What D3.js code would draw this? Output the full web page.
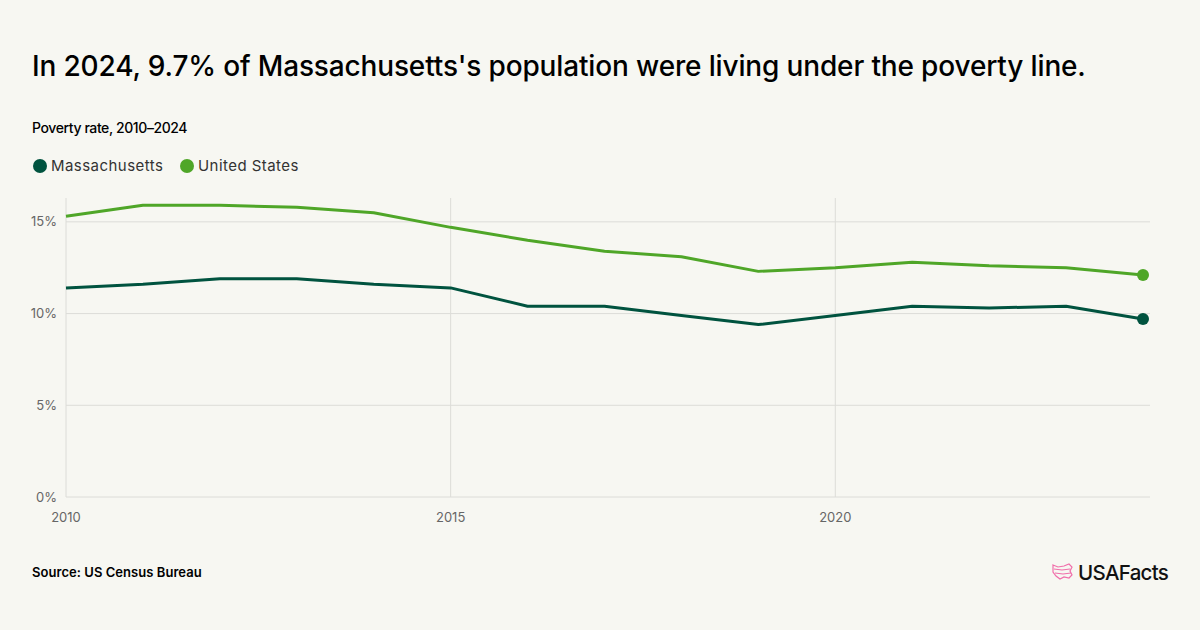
<!DOCTYPE html>
<html>
<head>
<meta charset="utf-8">
<script src="https://cdn.jsdelivr.net/npm/d3@7"></script>
<style>
  body { margin: 0; background: #f7f7f2; }
  svg { display: block; font-family: Inter, "Noto Sans", sans-serif; }
</style>
</head>
<body>
<script>
const width = 1200;
const height = 630;

const years = [2010, 2011, 2012, 2013, 2014, 2015, 2016, 2017, 2018, 2019, 2020, 2021, 2022, 2023, 2024];
const massachusetts = [11.4, 11.6, 11.9, 11.9, 11.6, 11.4, 10.4, 10.4, 9.9, 9.4, 9.9, 10.4, 10.3, 10.4, 9.7];
const unitedStates = [15.3, 15.9, 15.9, 15.8, 15.5, 14.7, 14.0, 13.4, 13.1, 12.3, 12.5, 12.8, 12.6, 12.5, 12.1];
const yTicks = [0, 5, 10, 15];
const xTicks = [2010, 2015, 2020];

const series = [
  {name: "Massachusetts", values: massachusetts, color: "#00533f"},
  {name: "United States", values: unitedStates, color: "#4fa628"}
];

const margin = {top: 198, right: 50, bottom: 133, left: 66};

const svg = d3.select("body").append("svg")
    .attr("width", width)
    .attr("height", height);

svg.append("rect").attr("width", width).attr("height", height).attr("fill", "#f7f7f2");

// title block
svg.append("text")
    .attr("x", 32).attr("y", 76)
    .attr("font-size", 28).attr("font-weight", 500)
    .attr("letter-spacing", -0.15)
    .attr("fill", "#000")
    .text("In 2024, 9.7% of Massachusetts's population were living under the poverty line.");

svg.append("text")
    .attr("x", 32).attr("y", 133)
    .attr("font-size", 14).attr("font-weight", 500)
    .attr("letter-spacing", -0.4)
    .attr("fill", "#000")
    .text("Poverty rate, 2010\u20132024");

// legend
const legend = svg.append("g").attr("transform", "translate(40,166)");
const legendX = [0, 147];
series.forEach((s, i) => {
  const g = legend.append("g").attr("transform", `translate(${legendX[i]},0)`);
  g.append("circle").attr("r", 7).attr("fill", s.color);
  g.append("text").attr("x", 11).attr("y", 5)
      .attr("font-size", 15).attr("fill", "#333")
      .attr("letter-spacing", 0.45)
      .text(s.name);
});

const x = d3.scaleLinear()
    .domain([2010, 2024])
    .range([margin.left, 1143]);

const y = d3.scaleLinear()
    .domain([0, 16.3])
    .range([height - margin.bottom, margin.top]);

const gridRight = 1150;

// horizontal grid
svg.append("g")
    .selectAll("line")
    .data(yTicks)
  .enter().append("line")
    .attr("x1", margin.left).attr("x2", gridRight)
    .attr("y1", d => y(d)).attr("y2", d => y(d))
    .attr("stroke", "#dcdcd8").attr("stroke-width", 1);

// vertical grid
svg.append("g")
    .selectAll("line")
    .data(xTicks)
  .enter().append("line")
    .attr("x1", d => x(d)).attr("x2", d => x(d))
    .attr("y1", margin.top).attr("y2", y(0))
    .attr("stroke", "#dcdcd8").attr("stroke-width", 1);

// y labels
svg.append("g")
    .selectAll("text")
    .data(yTicks)
  .enter().append("text")
    .attr("x", 57).attr("y", d => y(d) + 4.5)
    .attr("text-anchor", "end")
    .attr("font-size", 13).attr("fill", "#666")
    .text(d => d + "%");

// x labels
svg.append("g")
    .selectAll("text")
    .data(xTicks)
  .enter().append("text")
    .attr("x", d => x(d)).attr("y", 522)
    .attr("text-anchor", "middle")
    .attr("font-size", 13).attr("fill", "#666")
    .text(d => d);

const line = d3.line()
    .x((d, i) => x(years[i]))
    .y(d => y(d));

series.forEach(s => {
  svg.append("path")
      .datum(s.values)
      .attr("fill", "none")
      .attr("stroke", s.color)
      .attr("stroke-width", 3)
      .attr("stroke-linejoin", "round")
      .attr("d", line);
  const last = s.values.length - 1;
  svg.append("circle")
      .attr("cx", x(years[last]))
      .attr("cy", y(s.values[last]))
      .attr("r", 6)
      .attr("fill", s.color);
});

// footer
svg.append("text")
    .attr("x", 32).attr("y", 577)
    .attr("font-size", 13).attr("font-weight", 600)
    .attr("letter-spacing", 0.05)
    .attr("fill", "#000")
    .text("Source: US Census Bureau");

// logo
const logo = svg.append("g").attr("transform", "translate(1052,563)");
logo.append("path")
    .attr("d", "M1,2 L6,4 L12,3 L17,1 L20,4 L18,8 L20,12 L17,15 L12,14 L8,16 L4,13 L1,9 Z")
    .attr("fill", "none").attr("stroke", "#f06eaa").attr("stroke-width", 1.2);
logo.append("path")
    .attr("d", "M2,6 L10,7 L18,6 M3,10 L11,11 L19,10")
    .attr("fill", "none").attr("stroke", "#f06eaa").attr("stroke-width", 1);
svg.append("text")
    .attr("x", 1078).attr("y", 580)
    .attr("font-size", 20.5).attr("font-weight", 500)
    .attr("letter-spacing", -0.7)
    .attr("fill", "#111")
    .text("USAFacts");
</script>
</body>
</html>
